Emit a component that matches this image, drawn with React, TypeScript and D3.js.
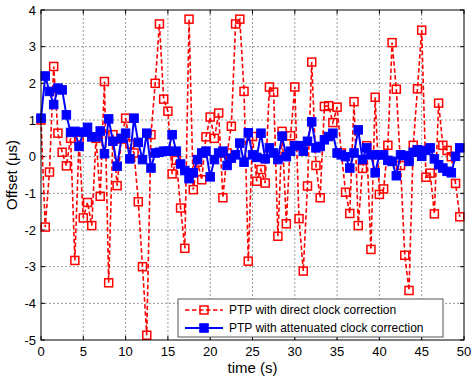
import React from "react";
import * as d3 from "d3";

const timeS = [
  0, 0.5, 1, 1.5, 2, 2.5, 3, 3.5, 4, 4.5, 5, 5.5, 6, 6.5, 7, 7.5, 8, 8.5, 9, 9.5,
  10, 10.5, 11, 11.5, 12, 12.5, 13, 13.5, 14, 14.5, 15, 15.5, 16, 16.5, 17, 17.5, 18, 18.5, 19, 19.5,
  20, 20.5, 21, 21.5, 22, 22.5, 23, 23.5, 24, 24.5, 25, 25.5, 26, 26.5, 27, 27.5, 28, 28.5, 29, 29.5,
  30, 30.5, 31, 31.5, 32, 32.5, 33, 33.5, 34, 34.5, 35, 35.5, 36, 36.5, 37, 37.5, 38, 38.5, 39, 39.5,
  40, 40.5, 41, 41.5, 42, 42.5, 43, 43.5, 44, 44.5, 45, 45.5, 46, 46.5, 47, 47.5, 48, 48.5, 49, 49.5,
];

const directOffset = [
  1.0, -1.92, -0.42, 2.46, 0.64, 0.12, -0.25, 0.5, -2.83, 0.45,
  -1.67, -1.25, -1.88, 0.5, -1.08, 2.05, -3.44, 0.6, -0.79, 0.48,
  1.05, 0.35, 0.1, -1.23, -3.0, -4.87, 0.6, 2.0, 3.62, 1.57,
  1.24, -0.47, -0.1, -1.4, -2.5, 3.75, -0.9, -0.15, -0.63, 0.54,
  1.08, 0.5, 1.19, -1.12, 0.1, 0.83, 3.62, 3.75, 1.78, -2.85,
  0.55, -0.67, -0.35, -0.72, 1.9, 1.76, -2.17, 0.69, -1.83, 0.57,
  1.9, -1.69, -3.12, -0.8, 2.58, -0.24, -1.12, 1.37, 1.39, 0.93,
  1.35, 0.1, -0.97, -1.55, 1.5, -1.88, -0.32, 0.3, -2.53, 1.62,
  -1.03, -0.88, 0.31, 3.11, 1.84, -0.24, -2.69, -3.65, 0.31, 1.85,
  3.45, -0.56, -0.45, -1.56, 1.46, 0.31, 0.17, 0.0, -0.73, -1.64,
];

const attenuatedOffset = [
  1.05, 2.2, 1.78, 1.42, 1.87, 1.82, 1.14, 0.66, 0.69, 0.28,
  0.67, 0.8, 0.54, 0.54, 0.7, 0.08, 1.03, 0.42, -0.26, 0.5,
  0.64, -0.06, 1.05, 0.39, -0.08, 0.64, -0.31, 0.1, 0.12, 0.15,
  0.15, 0.6, 0.15, -0.2, -0.38, -0.6, -0.44, -0.08, 0.1, 0.15,
  -0.55, -0.08, 0.1, 0.15, -0.24, -0.04, 0.05, 0.37, -0.15, 0.65,
  0.05, -0.02, 0.64, -0.06, 0.24, 0.1, -0.08, 0.56, 0.0, 0.15,
  0.3, 0.3, 0.15, 0.42, 0.95, 0.24, 0.28, 0.46, 0.55, 0.64,
  0.1, 0.05, 0.0, -0.31, 0.1, 0.73, -0.08, 0.24, 0.05, -0.44,
  0.05, 0.05, -0.1, -0.13, -0.52, 0.05, 0.03, -0.13, 0.12, 0.19,
  0.01, 0.17, 0.24, -0.06, -0.22, -0.31, -0.4, -0.44, 0.01, 0.24,
];

const xTicks = [0, 5, 10, 15, 20, 25, 30, 35, 40, 45, 50];
const yTicks = [4, 3, 2, 1, 0, -1, -2, -3, -4, -5];
const legendLabels = ["PTP with direct clock correction", "PTP with attenuated clock correction"];

const W = 474;
const H = 377;
const M = { left: 41, right: 464, top: 10, bottom: 340 };
const FONT = "'Liberation Sans', Arial, sans-serif";

export default function App() {
  const x = d3.scaleLinear().domain([0, 50]).range([M.left, M.right]);
  const y = d3.scaleLinear().domain([-5, 4]).range([M.bottom, M.top]);

  const red = timeS.map((t, i) => [t, directOffset[i]] as [number, number]);
  const blue = timeS.map((t, i) => [t, attenuatedOffset[i]] as [number, number]);
  const line = d3
    .line<[number, number]>()
    .x((d) => x(d[0]))
    .y((d) => y(d[1]));

  const rs = 8;
  const bs = 8.5;
  const tl = 4;
  const pw = M.right - M.left;
  const ph = M.bottom - M.top;

  const lg = { x: 178, y: 299, w: 265, h: 38 };

  return (
    <svg
      width={W}
      height={H}
      style={{ position: "absolute", left: 0, top: 0, background: "#fff" }}
      fontFamily={FONT}
    >
      <rect x={0} y={0} width={W} height={H} fill="#fff" />
      {xTicks.slice(1, -1).map((t) => (
        <line key={"gx" + t} x1={x(t)} x2={x(t)} y1={M.top} y2={M.bottom} stroke="#808080" strokeWidth={0.8} strokeDasharray="2,2" />
      ))}
      {yTicks.slice(1, -1).map((t) => (
        <line key={"gy" + t} x1={M.left} x2={M.right} y1={y(t)} y2={y(t)} stroke="#808080" strokeWidth={0.8} strokeDasharray="2,2" />
      ))}
      {xTicks.map((t) => (
        <g key={"tx" + t}>
          <line x1={x(t)} x2={x(t)} y1={M.bottom} y2={M.bottom - tl} stroke="#000" />
          <line x1={x(t)} x2={x(t)} y1={M.top} y2={M.top + tl} stroke="#000" />
          <text x={x(t)} y={M.bottom + 16} fontSize={13} textAnchor="middle">{t}</text>
        </g>
      ))}
      {yTicks.map((t) => (
        <g key={"ty" + t}>
          <line x1={M.left} x2={M.left + tl} y1={y(t)} y2={y(t)} stroke="#000" />
          <line x1={M.right} x2={M.right - tl} y1={y(t)} y2={y(t)} stroke="#000" />
          <text x={M.left - 5} y={y(t) + 4.5} fontSize={13} textAnchor="end">{t}</text>
        </g>
      ))}
      <path d={line(red) || ""} fill="none" stroke="#ff0000" strokeWidth={1.6} strokeDasharray="4.5,2.5" />
      {red.map((d, i) => (
        <rect key={"r" + i} x={x(d[0]) - rs / 2} y={y(d[1]) - rs / 2} width={rs} height={rs} fill="none" stroke="#ff0000" strokeWidth={1.5} />
      ))}
      <path d={line(blue) || ""} fill="none" stroke="#0000ff" strokeWidth={2} />
      {blue.map((d, i) => (
        <rect key={"b" + i} x={x(d[0]) - bs / 2} y={y(d[1]) - bs / 2} width={bs} height={bs} fill="#0000ff" stroke="#0000ff" strokeWidth={1} />
      ))}
      <rect x={M.left} y={M.top} width={pw} height={ph} fill="none" stroke="#000" strokeWidth={1} />
      <rect x={lg.x} y={lg.y} width={lg.w} height={lg.h} fill="#fff" stroke="#555" strokeWidth={1} />
      <line x1={lg.x + 7} x2={lg.x + 45} y1={lg.y + 11} y2={lg.y + 11} stroke="#ff0000" strokeWidth={1.6} strokeDasharray="4.5,2.5" />
      <rect x={lg.x + 26 - rs / 2} y={lg.y + 11 - rs / 2} width={rs} height={rs} fill="none" stroke="#ff0000" strokeWidth={1.5} />
      <text x={lg.x + 51} y={lg.y + 15} fontSize={12}>{legendLabels[0]}</text>
      <line x1={lg.x + 7} x2={lg.x + 45} y1={lg.y + 29} y2={lg.y + 29} stroke="#0000ff" strokeWidth={2} />
      <rect x={lg.x + 26 - bs / 2} y={lg.y + 29 - bs / 2} width={bs} height={bs} fill="#0000ff" stroke="#0000ff" />
      <text x={lg.x + 51} y={lg.y + 33} fontSize={12}>{legendLabels[1]}</text>
      <text x={(M.left + M.right) / 2} y={373} fontSize={15} textAnchor="middle">time (s)</text>
      <text transform={`translate(17,${(M.top + M.bottom) / 2}) rotate(-90)`} fontSize={15} textAnchor="middle">Offset (μs)</text>
    </svg>
  );
}
